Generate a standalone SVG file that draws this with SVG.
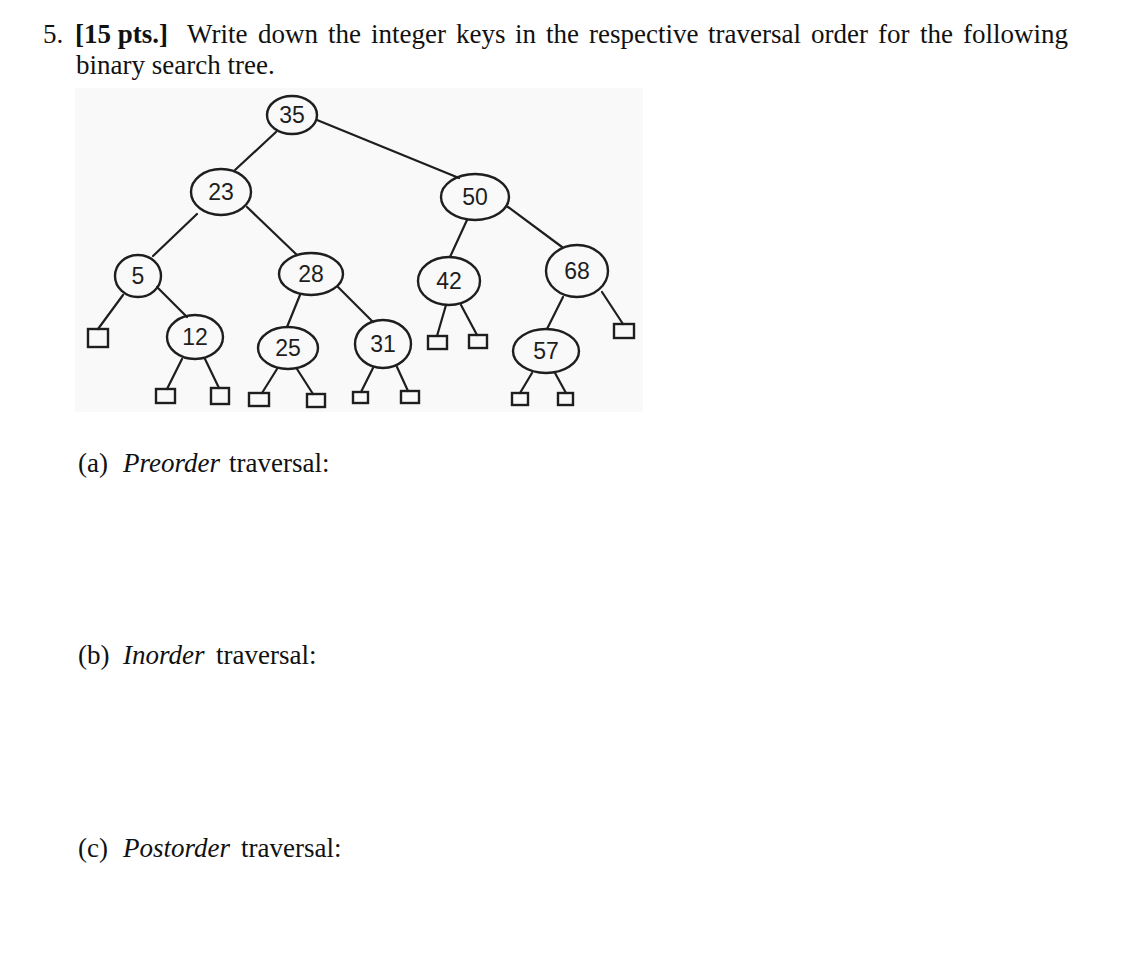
<svg xmlns="http://www.w3.org/2000/svg" width="1146" height="958" viewBox="0 0 1146 958">
<style>
.t{font-family:"Liberation Serif","Times New Roman",serif;font-size:27px;fill:#111}
.b{font-weight:bold}
.i{font-style:italic}
.n ellipse{fill:none;stroke:#1e1e1e;stroke-width:2.4}
.n text{font-family:"Liberation Sans",Arial,sans-serif;font-size:23px;fill:#1e1e1e;text-anchor:middle}
.leaf rect{fill:none;stroke:#1e1e1e;stroke-width:2.4}
#edges line{stroke:#1e1e1e;stroke-width:2.2;stroke-linecap:round}
</style>
<rect width="1146" height="958" fill="#fff"/>
<rect x="75" y="88" width="568" height="324" fill="#f9f9f9"/>
<g id="question">
<text class="t" y="43"><tspan x="43">5.</tspan><tspan x="75" class="b">[15 pts.]</tspan><tspan x="187">Write</tspan><tspan x="258">down</tspan><tspan x="328">the</tspan><tspan x="371">integer</tspan><tspan x="456">keys</tspan><tspan x="515">in</tspan><tspan x="546">the</tspan><tspan x="589">respective</tspan><tspan x="708">traversal</tspan><tspan x="811">order</tspan><tspan x="878">for</tspan><tspan x="920">the</tspan><tspan x="963">following</tspan></text>
<text class="t" x="76" y="74">binary search tree.</text>
</g>
<g id="parts">
<text class="t" y="472"><tspan x="78">(a)</tspan><tspan x="123" class="i">Preorder</tspan><tspan x="229">traversal:</tspan></text>
<text class="t" y="664"><tspan x="78">(b)</tspan><tspan x="123" class="i">Inorder</tspan><tspan x="216">traversal:</tspan></text>
<text class="t" y="857"><tspan x="78">(c)</tspan><tspan x="123" class="i">Postorder</tspan><tspan x="241">traversal:</tspan></text>
</g>
<g id="edges">
<line x1="276" y1="132" x2="235" y2="170"/>
<line x1="317" y1="120" x2="459" y2="178"/>
<line x1="197" y1="214" x2="153" y2="256"/>
<line x1="247" y1="207" x2="297" y2="255"/>
<line x1="467" y1="220" x2="450" y2="257"/>
<line x1="508" y1="207" x2="562" y2="247"/>
<line x1="123" y1="295" x2="98" y2="329"/>
<line x1="157" y1="287" x2="187" y2="317"/>
<line x1="300" y1="295" x2="287" y2="327"/>
<line x1="338" y1="287" x2="373" y2="322"/>
<line x1="182" y1="359" x2="167" y2="389"/>
<line x1="205" y1="359" x2="219" y2="388"/>
<line x1="277" y1="369" x2="262" y2="393"/>
<line x1="297" y1="369" x2="313" y2="394"/>
<line x1="373" y1="368" x2="361" y2="392"/>
<line x1="397" y1="367" x2="408" y2="391"/>
<line x1="446" y1="305" x2="437" y2="336"/>
<line x1="461" y1="305" x2="477" y2="335"/>
<line x1="563" y1="297" x2="547" y2="329"/>
<line x1="602" y1="292" x2="623" y2="324"/>
<line x1="532" y1="373" x2="520" y2="393"/>
<line x1="555" y1="373" x2="566" y2="393"/>
</g>
<g id="n35" class="n"><ellipse cx="292" cy="115" rx="25" ry="19"/><text x="292" y="123">35</text></g>
<g id="n23" class="n"><ellipse cx="221" cy="192" rx="30" ry="23"/><text x="221" y="200">23</text></g>
<g id="n50" class="n"><ellipse cx="475" cy="197" rx="34" ry="23"/><text x="475" y="205">50</text></g>
<g id="n5" class="n"><ellipse cx="138" cy="276" rx="23" ry="21"/><text x="138" y="284">5</text></g>
<g id="n28" class="n"><ellipse cx="311" cy="274" rx="32" ry="21"/><text x="311" y="282">28</text></g>
<g id="n42" class="n"><ellipse cx="449" cy="281" rx="31" ry="24"/><text x="449" y="289">42</text></g>
<g id="n68" class="n"><ellipse cx="577" cy="271" rx="31" ry="26"/><text x="577" y="279">68</text></g>
<g id="n12" class="n"><ellipse cx="195" cy="337" rx="28" ry="22"/><text x="195" y="345">12</text></g>
<g id="n25" class="n"><ellipse cx="288" cy="348" rx="30" ry="21"/><text x="288" y="356">25</text></g>
<g id="n31" class="n"><ellipse cx="383" cy="344" rx="28" ry="24"/><text x="383" y="352">31</text></g>
<g id="n57" class="n"><ellipse cx="546" cy="351" rx="33" ry="22"/><text x="546" y="359">57</text></g>
<g id="leaf5L" class="leaf"><rect x="88" y="329" width="20" height="18"/></g>
<g id="leaf12L" class="leaf"><rect x="156" y="389" width="19" height="14"/></g>
<g id="leaf12R" class="leaf"><rect x="211" y="388" width="18" height="16"/></g>
<g id="leaf25L" class="leaf"><rect x="249" y="393" width="20" height="13"/></g>
<g id="leaf25R" class="leaf"><rect x="307" y="394" width="18" height="13"/></g>
<g id="leaf31L" class="leaf"><rect x="353" y="392" width="15" height="11"/></g>
<g id="leaf31R" class="leaf"><rect x="401" y="391" width="18" height="12"/></g>
<g id="leaf42L" class="leaf"><rect x="428" y="336" width="19" height="13"/></g>
<g id="leaf42R" class="leaf"><rect x="469" y="335" width="18" height="13"/></g>
<g id="leaf57L" class="leaf"><rect x="512" y="393" width="16" height="12"/></g>
<g id="leaf57R" class="leaf"><rect x="558" y="393" width="15" height="12"/></g>
<g id="leaf68R" class="leaf"><rect x="614" y="324" width="20" height="14"/></g>
</svg>
